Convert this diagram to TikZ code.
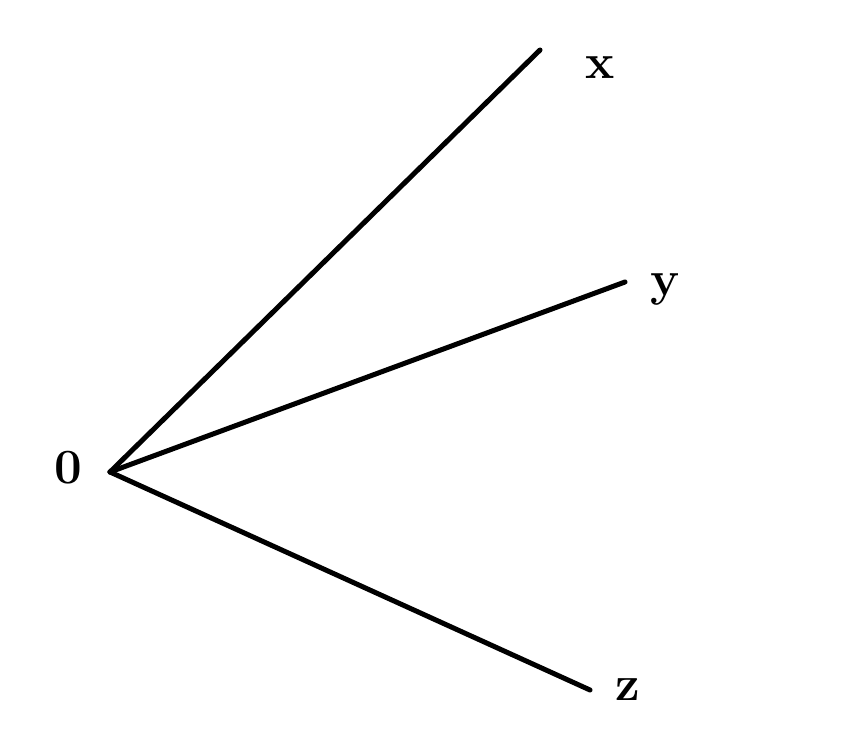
\documentclass[tikz,border=0pt]{standalone}
\begin{document}
\begin{tikzpicture}[every node/.style={inner sep=0pt, font=\fontsize{28}{34}\selectfont\bfseries}]
			\useasboundingbox (0,0) rectangle (16.9,15.1);
			% \draw[help lines] (0,0) grid (16,15);
			\coordinate (o) at (2.2,5.66);
			\coordinate (xe) at (10.8,14.1);
			\coordinate (ye) at (12.5,9.46);
			\coordinate (ze) at (11.8,1.3);
			\node (origin) at (1.36,5.74) [] {0};
			\node (xlab) at (12.0,13.74) [] {x};
			\node (ylab) at (13.3,9.3) [] {y};
			\node (zlab) at (12.56,1.3) [] {z};

			\draw[line width=0.1cm, line cap=round] (o) -- (xe);
			\draw[line width=0.1cm, line cap=round] (o) -- (ye);
			\draw[line width=0.1cm, line cap=round] (o) -- (ze);
		\end{tikzpicture}
\end{document}
